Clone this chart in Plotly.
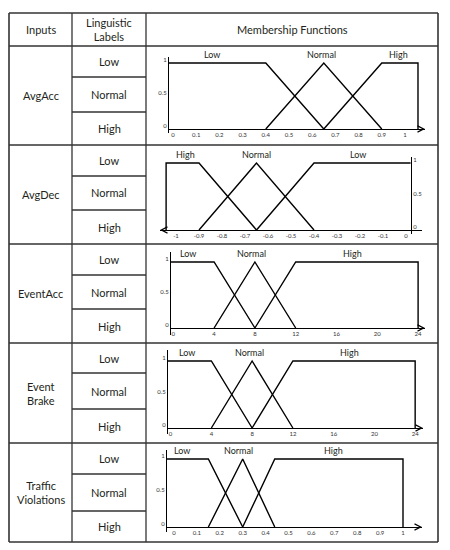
import plotly.graph_objects as go

W, H = 450, 550

# table text
header = ["Inputs", "Linguistic<br>Labels", "Membership Functions"]
inputs = ["AvgAcc", "AvgDec", "EventAcc", "Event<br>Brake", "Traffic<br>Violations"]
levels = ["Low", "Normal", "High"]

# membership functions, breakpoints
avgacc_low_x = [-0.022, 0.4, 0.65]
avgacc_low_y = [1, 1, 0]
avgacc_normal_x = [0.4, 0.65, 0.9]
avgacc_normal_y = [0, 1, 0]
avgacc_high_x = [0.65, 0.9, 1.056, 1.056]
avgacc_high_y = [0, 1, 1, 0]
avgacc_ticks = [0, 0.1, 0.2, 0.3, 0.4, 0.5, 0.6, 0.7, 0.8, 0.9, 1]

avgdec_high_x = [-1.043, -1.043, -0.9, -0.65]
avgdec_high_y = [0, 1, 1, 0]
avgdec_normal_x = [-0.9, -0.65, -0.4]
avgdec_normal_y = [0, 1, 0]
avgdec_low_x = [-0.65, -0.4, 0.02]
avgdec_low_y = [0, 1, 1]
avgdec_ticks = [-1, -0.9, -0.8, -0.7, -0.6, -0.5, -0.4, -0.3, -0.2, -0.1, 0]

eventacc_low_x = [-0.3, 4, 8]
eventacc_low_y = [1, 1, 0]
eventacc_normal_x = [4, 8, 12]
eventacc_normal_y = [0, 1, 0]
eventacc_high_x = [8, 12, 24, 24]
eventacc_high_y = [0, 1, 1, 0]
eventacc_ticks = [0, 4, 8, 12, 16, 20, 24]

eventbrake_low_x = [-0.35, 4, 8]
eventbrake_low_y = [1, 1, 0]
eventbrake_normal_x = [4, 8, 12]
eventbrake_normal_y = [0, 1, 0]
eventbrake_high_x = [8, 12, 24, 24]
eventbrake_high_y = [0, 1, 1, 0]
eventbrake_ticks = [0, 4, 8, 12, 16, 20, 24]

traffic_low_x = [-0.035, 0.15, 0.3]
traffic_low_y = [1, 1, 0]
traffic_normal_x = [0.15, 0.3, 0.44]
traffic_normal_y = [0, 1, 0]
traffic_high_x = [0.3, 0.44, 1, 1]
traffic_high_y = [0, 1, 1, 0]
traffic_ticks = [0, 0.1, 0.2, 0.3, 0.4, 0.5, 0.6, 0.7, 0.8, 0.9, 1]

y_ticks = [0, 0.5, 1]


def px(x):
    return x / W


def py(y):
    return 1 - y / H


# panel geometry in pixels: x domain, pixel of x=0, px per unit, y domain, pixel of y=0, px per unit
panels = [
    dict(curves=[(avgacc_low_x, avgacc_low_y), (avgacc_normal_x, avgacc_normal_y), (avgacc_high_x, avgacc_high_y)],
         ticks=avgacc_ticks, xdom=(168, 425), x0=173, xs=232, ydom=(57, 133), y0=129, ys=66,
         labels=[("Low", 0.168), ("Normal", 0.64), ("High", 0.97)], yside="left", ypos=168, arrow="right"),
    dict(curves=[(avgdec_high_x, avgdec_high_y), (avgdec_normal_x, avgdec_normal_y), (avgdec_low_x, avgdec_low_y)],
         ticks=avgdec_ticks, xdom=(160, 422), x0=406, xs=230, ydom=(157, 234), y0=230, ys=67,
         labels=[("High", -0.96), ("Normal", -0.65), ("Low", -0.21)], yside="right", ypos=411, arrow="left"),
    dict(curves=[(eventacc_low_x, eventacc_low_y), (eventacc_normal_x, eventacc_normal_y), (eventacc_high_x, eventacc_high_y)],
         ticks=eventacc_ticks, xdom=(170, 425), x0=173.3, xs=10.2, ydom=(252, 335), y0=328, ys=66,
         labels=[("Low", 1.4), ("Normal", 7.7), ("High", 17.6)], yside="left", ypos=170, arrow="right"),
    dict(curves=[(eventbrake_low_x, eventbrake_low_y), (eventbrake_normal_x, eventbrake_normal_y), (eventbrake_high_x, eventbrake_high_y)],
         ticks=eventbrake_ticks, xdom=(167, 423), x0=170.6, xs=10.19, ydom=(350, 434), y0=428, ys=67,
         labels=[("Low", 1.6), ("Normal", 7.7), ("High", 17.6)], yside="left", ypos=167, arrow="right"),
    dict(curves=[(traffic_low_x, traffic_low_y), (traffic_normal_x, traffic_normal_y), (traffic_high_x, traffic_high_y)],
         ticks=traffic_ticks, xdom=(166, 422), x0=174, xs=229, ydom=(450, 532), y0=527, ys=68,
         labels=[("Low", 0.035), ("Normal", 0.28), ("High", 0.695)], yside="left", ypos=166, arrow="right"),
]

fig = go.Figure()
font = "Lato, Open Sans, sans-serif"
ink = "#231f20"
annotations = []
layout = {}

for i, p in enumerate(panels):
    n = "" if i == 0 else str(i + 1)
    xr = [(p["xdom"][0] - p["x0"]) / p["xs"], (p["xdom"][1] - p["x0"]) / p["xs"]]
    yr = [(p["y0"] - p["ydom"][1]) / p["ys"], (p["y0"] - p["ydom"][0]) / p["ys"]]
    for cx, cy in p["curves"]:
        fig.add_trace(go.Scatter(x=cx, y=cy, mode="lines", xaxis="x" + n, yaxis="y" + n,
                                 line=dict(color="black", width=1.4), showlegend=False,
                                 hoverinfo="skip", cliponaxis=False))
    layout["xaxis" + n] = dict(
        domain=[px(p["xdom"][0]), px(p["xdom"][1])], range=xr, anchor="free", position=py(p["y0"]),
        showline=True, linecolor="black", linewidth=1.3, showgrid=False, zeroline=False, automargin=False,
        tickmode="array", tickvals=p["ticks"], ticktext=[str(t) for t in p["ticks"]],
        ticks="", tickfont=dict(size=6, color="#333", family=font), fixedrange=True,
    )
    layout["yaxis" + n] = dict(
        domain=[py(p["ydom"][1]), py(p["ydom"][0])], range=yr, anchor="free", position=px(p["ypos"]),
        side=p["yside"], showline=True, linecolor="black", linewidth=1.3, showgrid=False, zeroline=False,
        automargin=False, tickmode="array", tickvals=y_ticks, ticktext=["0", "0.5", "1"], ticks="",
        tickfont=dict(size=6, color="#333", family=font), ticklabelshift=-3, fixedrange=True,
    )
    for txt, lx in p["labels"]:
        annotations.append(dict(x=lx, y=1.0, xref="x" + n, yref="y" + n, text=txt, showarrow=False,
                                xanchor="center", yanchor="bottom", yshift=1,
                                font=dict(size=9, color=ink, family=font)))
    # arrow head on the x axis
    if p["arrow"] == "right":
        tip, tail = xr[1], xr[1] - 4 / p["xs"]
    else:
        tip, tail = xr[0], xr[0] + 4 / p["xs"]
    annotations.append(dict(x=tip, y=0, ax=tail, ay=0, xref="x" + n, yref="y" + n, axref="x" + n, ayref="y" + n,
                            text="", showarrow=True, arrowhead=5, arrowsize=1.1, arrowwidth=1.1,
                            arrowcolor="black"))

# table grid
left, c1, c2, right = 9, 72, 146, 438
top, head = 13, 46
blocks = [46, 145, 244, 343, 443, 542]
subrows = [(77, 112), (176, 210), (275, 309), (373, 409), (474, 511)]
lc = "#333333"
shapes = []


def hline(y, x0, x1, w=1.3):
    shapes.append(dict(type="line", xref="paper", yref="paper", x0=px(x0), x1=px(x1), y0=py(y), y1=py(y),
                       line=dict(color=lc, width=w)))


def vline(x, y0, y1, w=1.3):
    shapes.append(dict(type="line", xref="paper", yref="paper", x0=px(x), x1=px(x), y0=py(y0), y1=py(y1),
                       line=dict(color=lc, width=w)))


hline(top, left, right, 1.6)
for b in blocks[:-1]:
    hline(b, left, right)
hline(blocks[-1], left, right, 1.6)
vline(left, top, blocks[-1], 1.6)
vline(right, top, blocks[-1], 1.6)
vline(c1, top, blocks[-1])
vline(c2, top, blocks[-1])
for a, b in subrows:
    hline(a, c1, c2)
    hline(b, c1, c2)


def text(x, y, s, size=11):
    annotations.append(dict(x=px(x), y=py(y), xref="paper", yref="paper", text=s, showarrow=False,
                            xanchor="center", yanchor="middle", align="center",
                            font=dict(size=size, color=ink, family=font)))


text((left + c1) / 2, (top + head) / 2, header[0])
text((c1 + c2) / 2, (top + head) / 2, header[1])
text((c2 + right) / 2, (top + head) / 2, header[2])
for k, name in enumerate(inputs):
    y0, y1 = blocks[k], blocks[k + 1]
    text((left + c1) / 2, (y0 + y1) / 2, name)
    edges = [y0, subrows[k][0], subrows[k][1], y1]
    for j, lv in enumerate(levels):
        text((c1 + c2) / 2, (edges[j] + edges[j + 1]) / 2, lv)

fig.update_layout(
    width=W, height=H, margin=dict(l=0, r=0, t=0, b=0, autoexpand=False),
    paper_bgcolor="white", plot_bgcolor="rgba(0,0,0,0)",
    shapes=shapes, annotations=annotations, **layout,
)

fig.write_html("out.html", config={"displayModeBar": False},
               post_script="document.body.style.margin='0px';")
